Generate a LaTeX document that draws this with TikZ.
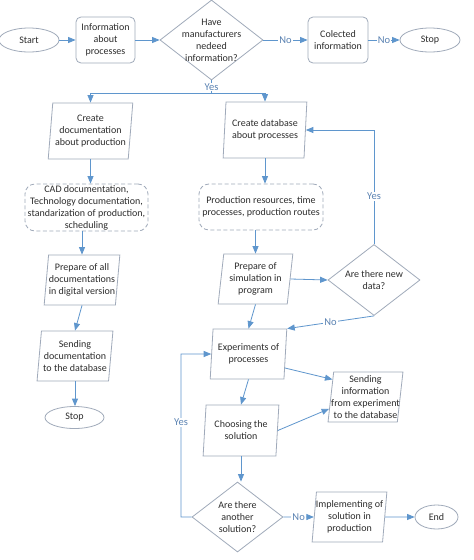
\documentclass[tikz,border=0pt]{standalone}
\usepackage{fontspec}
\setmainfont{Carlito}
\usetikzlibrary{shapes.geometric,arrows.meta,calc}
\definecolor{edge}{RGB}{160,170,186}
\definecolor{arr}{RGB}{95,150,205}
\definecolor{lab}{RGB}{90,130,178}
\definecolor{txt}{RGB}{45,45,45}
\begin{document}
\begin{tikzpicture}[x=1pt,y=-1pt,
 sz/.style 2 args={minimum width=#1,minimum height=#2},
 base/.style={draw=edge,line width=0.8pt,text=txt,font=\fontsize{10}{12}\selectfont,align=center,inner sep=0pt},
 para/.style={base,trapezium,trapezium left angle=82,trapezium right angle=98,trapezium stretches=true,inner xsep=-5pt,inner ysep=-3pt},
 rbox/.style={base,rectangle,rounded corners=5pt},
 dbox/.style={base,rectangle,rounded corners=10pt,dash pattern=on 4pt off 2.5pt,inner sep=-2pt},
 term/.style={base,ellipse},
 dec/.style={base,diamond,aspect=1.3,inner sep=-8pt},
 dtext/.style={text=txt,font=\fontsize{10}{12}\selectfont,align=center,inner sep=0pt},
 arrow/.style={draw=arr,line width=0.8pt,-{Triangle[length=7.5pt,width=6pt]}},
 line/.style={draw=arr,line width=0.8pt},
 lbl/.style={text=lab,fill=white,inner sep=1pt,font=\fontsize{10.5}{12}\selectfont}
]
\fill[white] (0,0) rectangle (474,560);
\useasboundingbox (0,0) rectangle (474,560);

% top row
\node[term,sz={60pt}{24pt}] (start) at (29,40) {Start};
\node[rbox,sz={59pt}{46pt}] (info) at (105.5,40) {Information\\about\\processes};
\node[dec,sz={103pt}{80pt}] (have) at (211.5,40) {};
\node[dtext] (havet) at (have) {Have\\manufacturers\\nedeed\\information?};
\node[rbox,sz={60pt}{46pt}] (col) at (338,40) {Colected\\information};
\node[term,sz={60pt}{24pt}] (stopa) at (430,40) {Stop};

% left column
\node[para,sz={85pt}{56pt}] (cdoc) at (90.5,131) {Create\\documentation\\about production};
\node[dbox,sz={123pt}{47pt}] (cad) at (86.5,207.5) {CAD documentation,\\Technology documentation,\\standarization of production,\\scheduling};
\node[para,sz={76pt}{50pt}] (pdoc) at (82,280) {Prepare of all\\documentations\\in digital version};
\node[para,sz={76pt}{50pt}] (sdoc) at (75,356) {Sending\\documentation\\to the database};
\node[term,sz={59pt}{22pt}] (stopb) at (74.5,417.5) {Stop};

% right column
\node[para,sz={84pt}{56pt}] (cdb) at (265,130) {Create database\\about processes};
\node[dbox,sz={124pt}{46pt}] (prd) at (261,207) {Production resources, time\\processes, production routes};
\node[para,sz={75pt}{50pt}] (psim) at (255.5,279) {Prepare of\\simulation in\\program};
\node[dec,sz={92pt}{71pt}] (newd) at (374,280) {};
\node[dtext] (newdt) at (newd) {Are there new\\data?};
\node[para,sz={77pt}{50pt}] (exp) at (248.5,354) {Experiments of\\processes};
\node[para,sz={75pt}{50pt}] (si) at (365.5,397) {Sending\\information\\from experiment\\to the database};
\node[para,sz={76pt}{51pt}] (cho) at (241,430.5) {Choosing the\\solution};
\node[dec,sz={91pt}{70pt}] (ano) at (237.5,517) {};
\node[dtext] (anot) at (ano) {Are there\\another\\solution?};
\node[para,sz={75pt}{50pt}] (imp) at (349.5,517) {Implementing of\\solution in\\production};
\node[term,sz={43pt}{24pt}] (end) at (436.5,517) {End};

\coordinate (ysplit) at (211.5,93);
\coordinate (yb) at (181,517);
\coordinate (yt) at (181,354);

% connectors top
\draw[arrow] (start.east) -- (info.west);
\draw[arrow] (info.east) -- (have.west);
\draw[arrow] (have.east) -- node[lbl]{No} (col.west);
\draw[arrow] (col.east) -- node[lbl]{No} (stopa.west);
\draw[line] (have.south) -- (ysplit);
\node[lbl] (yes1) at (211.5,87) {Yes};
\draw[arrow] (ysplit) -| (cdoc.north);
\draw[arrow] (ysplit) -| (cdb.north);

% left column
\draw[arrow] (cdoc.south) -- (cdoc.south |- cad.north);
\draw[arrow] (pdoc.north |- cad.south) -- (pdoc.north);
\draw[arrow] (pdoc.south) -- (sdoc.north);
\draw[arrow] (sdoc.south) -- (sdoc.south |- stopb.north);

% right column
\draw[arrow] (cdb.south) -- (cdb.south |- prd.north);
\draw[arrow] (psim.north |- prd.south) -- (psim.north);
\draw[arrow] (psim.east) -- (newd.west);
\draw[arrow] (newd.north) -- node[lbl,pos=0.42]{Yes} (newd.north |- cdb.east) -- (cdb.east);
\draw[arrow] (newd.south) -- node[lbl]{No} (exp.top right corner);
\draw[arrow] (psim.south) -- (exp.north);
\draw[arrow] (exp.south) -- (cho.north);
\draw[arrow] (exp.-21) -- (si.152);
\draw[arrow] (cho.east) -- (si.198);
\draw[arrow] (cho.south) -- (cho.south |- ano.north);
\draw[arrow] (ano.east) -- node[lbl]{No} (imp.west);
\draw[arrow] (imp.east) -- (end.west);
\draw[arrow] (ano.west) -- (yb) -- node[lbl,pos=0.58]{Yes} (yt) -- (exp.west);
\end{tikzpicture}
\end{document}
